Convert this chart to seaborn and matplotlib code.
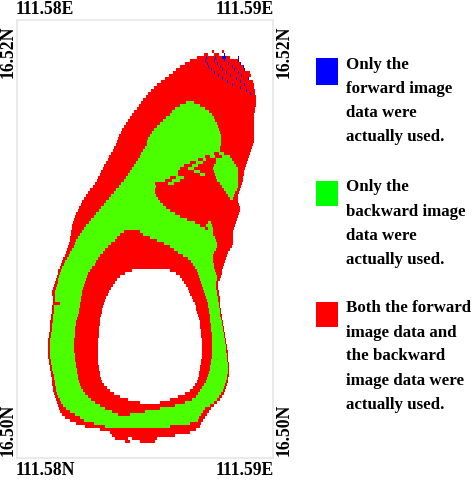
import numpy as np
import matplotlib
matplotlib.use('Agg')
import matplotlib.pyplot as plt
from matplotlib.colors import ListedColormap
from matplotlib.patches import Rectangle
import seaborn as sns

# map rows: pixel row, run edges (pixel x), run classes
row_y = list(range(51, 444, 3))
row_edges = [
    [212,214,222,224], [204,208,214,219,224,225], [197,206,207,215,216,222,226,230,238,239],
    [190,205,206,214,215,224,225,238,239], [185,207,208,217,218,228,229,240,241],
    [180,208,209,220,221,232,233,243,244], [176,211,212,222,223,234,235,244,245],
    [173,214,215,226,227,238,239,250], [169,218,219,230,231,241,242,251],
    [165,222,223,236,237,248,249], [161,227,228,240,241,253], [157,232,233,244,245,254],
    [154,240,241,254], [151,246,247,255], [148,250,251,255], [146,256], [143,256],
    [141,186,194,256], [139,180,200,256], [137,175,205,255], [134,172,209,255],
    [132,170,212,254], [130,166,214,254], [128,163,215,254], [126,160,217,254],
    [124,157,218,254], [122,154,219,254], [121,152,220,254], [119,150,221,254],
    [118,148,221,254], [117,147,221,254], [116,147,221,253], [114,145,220,252],
    [113,143,220,251], [111,141,214,219,224,250],
    [109,140,205,210,215,222,230,249], [108,138,198,203,206,216,232,248],
    [106,136,190,196,203,216,234,247], [104,134,184,192,198,214,236,246],
    [103,132,180,188,194,213,238,245], [101,130,178,194,200,214,238,244],
    [100,128,178,200,205,215,238,244], [98,126,170,176,184,216,238,243],
    [97,124,165,172,180,217,238,243], [95,121,155,168,174,220,238,242],
    [93,119,156,222,238,241], [90,116,155,224,237,240], [88,114,155,226,235,239],
    [86,111,156,228,234,238], [84,109,158,230,233,238],
    [82,106,160,238], [81,104,163,239], [79,101,166,240], [78,99,170,240],
    [76,96,175,239], [75,94,180,238], [74,91,187,237],
    [73,89,195,208,211,236], [72,86,200,206,212,235], [72,84,205,208,213,234],
    [71,82,124,140,213,233], [71,80,120,143,213,233], [70,78,117,150,215,233],
    [70,76,115,157,216,233], [69,75,111,164,217,233], [68,74,108,170,217,232],
    [67,72,105,174,216,230], [66,70,103,178,214,228], [65,69,100,183,213,227],
    [63,67,98,188,213,226], [62,65,96,191,213,225], [61,64,95,193,214,224],
    [60,62,92,195,214,223],
    [58,61,90,132,170,197,215,222], [58,60,88,125,176,198,216,222],
    [57,59,87,120,180,199,217,221], [56,58,86,117,182,200,217,220],
    [55,58,85,115,184,201,216,218], [54,57,84,113,186,202,216,218],
    [53,56,83,111,188,203,216,218], [52,55,82,109,189,204,217,219],
    [52,55,82,108,190,205,217,219], [53,55,81,106,192,206,218,220],
    [53,55,81,105,193,207,218,220], [53,60,80,104,195,208,219,220],
    [52,54,80,103,196,208,219,220], [52,54,79,102,196,209,220,221],
    [52,54,79,102,197,209,220,221], [51,53,78,101,198,210,220,222],
    [51,53,77,100,199,210,221,222], [50,53,76,100,200,210,222,223],
    [50,52,76,100,200,211,222,223], [50,52,75,99,200,211,223,224],
    [50,52,75,99,201,211,223,224], [49,51,75,99,201,212,224,225],
    [49,51,75,99,201,212,224,225], [48,50,74,98,202,212,225,226],
    [48,50,74,98,202,212,225,226], [48,50,74,98,202,212,226,227],
    [48,50,74,98,202,212,226,227], [48,50,74,98,202,212,226,228],
    [48,50,75,98,202,212,227,228], [48,50,75,98,202,212,227,228],
    [49,51,75,98,201,211,227,228], [49,51,76,98,201,211,228,229],
    [50,52,76,99,200,210,228,229], [50,52,77,99,200,210,228,229],
    [51,53,77,100,199,209,228,229], [51,54,78,100,199,208,227,229],
    [52,54,78,101,198,207,227,228], [52,55,79,102,197,206,226,228],
    [52,55,80,104,195,204,225,227], [53,56,81,107,193,202,224,226],
    [53,56,83,110,190,200,223,225], [54,57,85,114,185,198,221,224],
    [55,58,88,120,178,196,219,222], [56,60,91,128,170,192,217,220],
    [57,61,95,140,160,185,214,217],
    [58,63,100,175,210,214], [59,66,105,160,205,211], [60,70,112,145,203,209],
    [62,75,118,130,201,207], [65,80,199,205], [70,84,198,203], [76,94,190,201],
    [85,105,170,200], [100,196], [110,190], [112,175],
    [115,128,132,157], [125,130,140,155],
]
row_codes = (
    ['RWR', 'RWRWB', 'RBRBRBRWB'] + ['RBRBRBRB'] * 4 + ['RBRBRBR'] * 2 + ['RBRBRB']
    + ['RBRBR'] * 2 + ['RBR'] * 3 + ['R'] * 2 + ['RGR'] * 17 + ['RGRGR']
    + ['RGRGRGR'] * 10 + ['RGRGR'] * 5 + ['RGR'] * 7 + ['RGRGR'] * 16
    + ['RGRWRGR'] * 45 + ['RGRGR'] * 4 + ['RGR'] * 4 + ['R'] * 3 + ['RWR'] * 2
)

legend_colors = ['#0000ff', '#00ff00', '#ff0000']
legend_lines = [
    ['Only the', 'forward image', 'data were', 'actually used.'],
    ['Only the', 'backward image', 'data were', 'actually used.'],
    ['Both the forward', 'image data and', 'the backward', 'image data were', 'actually used.'],
]
legend_line_y = [[65, 89, 113, 137], [187, 212, 236, 260], [308, 333, 356, 381, 405]]
legend_box_y = [(59, 86), (182, 207), (303, 328)]

W, H = 474, 481
MAP_L, MAP_R, MAP_T, MAP_B = 17, 273, 21, 459
plt.rcParams['font.family'] = ['Liberation Serif', 'DejaVu Serif']
plt.rcParams['font.weight'] = 'bold'

code_value = {'W': 0, 'B': 1, 'G': 2, 'R': 3}
grid = np.zeros(((MAP_B - MAP_T) // 3, MAP_R - MAP_L), dtype=int)
for y, edges, codes in zip(row_y, row_edges, row_codes):
    assert len(edges) == len(codes) + 1, y
    row = (y - MAP_T) // 3
    for i, c in enumerate(codes):
        grid[row, edges[i] - MAP_L:edges[i + 1] - MAP_L] = code_value[c]

fig = plt.figure(figsize=(W / 100, H / 100), dpi=100)
ax = fig.add_axes([MAP_L / W, 1 - MAP_B / H, (MAP_R - MAP_L) / W, (MAP_B - MAP_T) / H])
cmap = ListedColormap(['#ffffff', '#0000ff', '#4cff00', '#ff0000'])
sns.heatmap(grid, cmap=cmap, vmin=0, vmax=3, cbar=False, xticklabels=False, yticklabels=False, ax=ax)
for s in ax.spines.values():
    s.set_visible(True)
    s.set_color('#e6e6e6')
    s.set_linewidth(1.2)

def put(x, y, s, size=12.2, **kw):
    fig.text(x / W, 1 - y / H, s, fontsize=size, color='black', va='center', **kw)

put(45, 9, '111.58E', 12.7, ha='center')
put(245, 9, '111.59E', 12.7, ha='center')
put(45, 471, '111.58N', 12.7, ha='center')
put(245, 471, '111.59E', 12.7, ha='center')
for x in [8, 284]:
    put(x, 52, '16.52N', 12.7, ha='center', rotation=90)
    put(x, 430, '16.50N', 12.7, ha='center', rotation=90)

# legend drawn by hand, boxes and wrapped text sit apart
for color, (top, bottom), lines, ys in zip(legend_colors, legend_box_y, legend_lines, legend_line_y):
    fig.patches.append(Rectangle((316 / W, 1 - bottom / H), 22 / W, (bottom - top) / H,
                                 transform=fig.transFigure, facecolor=color, edgecolor='none'))
    for line, y in zip(lines, ys):
        put(346, y, line, ha='left')

fig.savefig('out.png', dpi=100)
